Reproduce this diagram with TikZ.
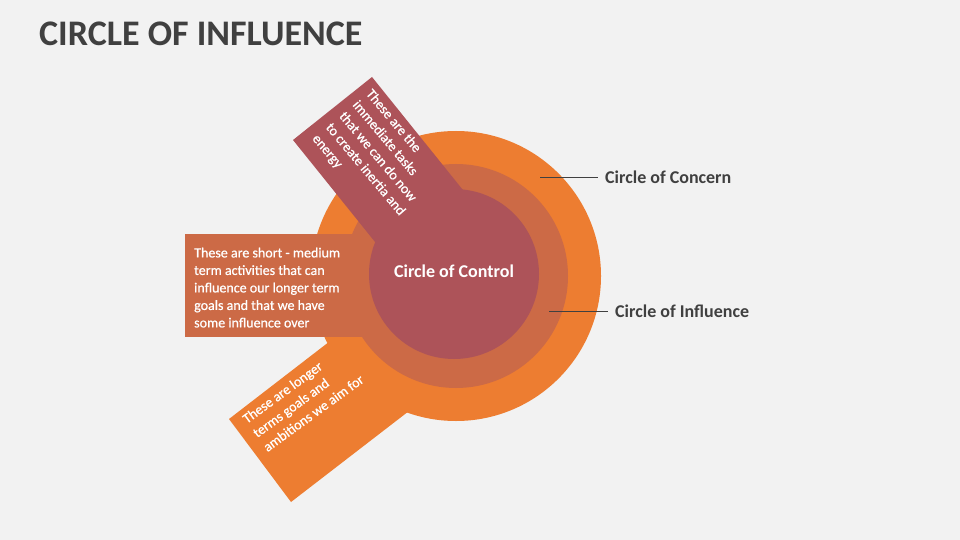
\documentclass[tikz,border=0pt]{standalone}
\usepackage{fontspec}
\setmainfont{Carlito}
\newfontfamily\bodyfont{Carlito}[FakeBold=0.7]
\definecolor{bgc}{HTML}{F2F2F2}
\definecolor{orng}{HTML}{ED7D31}
\definecolor{terra}{HTML}{CC6A46}
\definecolor{maroon}{HTML}{AD5359}
\definecolor{ink}{HTML}{404040}
\tikzset{
  ring/.style={circle, inner sep=0pt, draw=none},
  bodytext/.style={text=white, inner sep=0pt, align=left, font=\bodyfont\fontsize{14}{17.5}\selectfont},
  label/.style={text=ink, inner sep=0pt, anchor=west, font=\fontsize{18}{21}\selectfont\bfseries},
  leader/.style={draw=ink, line width=0.9pt}
}
\begin{document}
\begin{tikzpicture}[x=1pt,y=-1pt]
\fill[bgc] (0,0) rectangle (960,540);
\useasboundingbox (0,0) rectangle (960,540);
% title
\node[text=ink, inner sep=0pt, anchor=base west, font=\fontsize{36}{42}\selectfont\bfseries] (title) at (39,46) {CIRCLE OF INFLUENCE};
% outer circle and its arm
\node[ring, fill=orng, minimum size=290pt] (concern) at (456,276) {};
\fill[orng] (229,419) -- (291,502) -- (457,374) -- (395,291) -- cycle;
% middle circle and its box
\node[ring, fill=terra, minimum size=224pt] (influence) at (456,276) {};
\fill[terra] (185,234) rectangle (420,337);
% inner circle and its arm
\node[ring, fill=maroon, minimum size=170pt] (control) at (454,274) {};
\fill[maroon] (372,77) -- (293,140) -- (437,319) -- (516,256) -- cycle;
% texts
\node[text=white, inner sep=0pt, font=\fontsize{18}{21}\selectfont\bfseries] (ctl) at (454,271) {Circle of Control};
\node[bodytext, anchor=north west] (shorttxt) at (194,247.5) {These are short - medium\\term activities that can\\influence our longer term\\goals and that we have\\some influence over};
\node[bodytext, anchor=north west, rotate=-50] (immtxt) at (373,87.5) {These are the\\immediate tasks\\that we can do now\\to create inertia and\\energy};
\node[bodytext, anchor=north west, rotate=36] (longtxt) at (241,416) {These are longer\\terms goals and\\ambitions we aim for};
% labels
\node[label] (lconcern) at (605,177) {Circle of Concern};
\node[label] (linfluence) at (615,311) {Circle of Influence};
\coordinate (pconcern) at (540,177);
\coordinate (pinfluence) at (549,311);
\draw[leader] (pconcern) -- ([xshift=-7pt]lconcern.west);
\draw[leader] (pinfluence) -- ([xshift=-7pt]linfluence.west);
\end{tikzpicture}
\end{document}
